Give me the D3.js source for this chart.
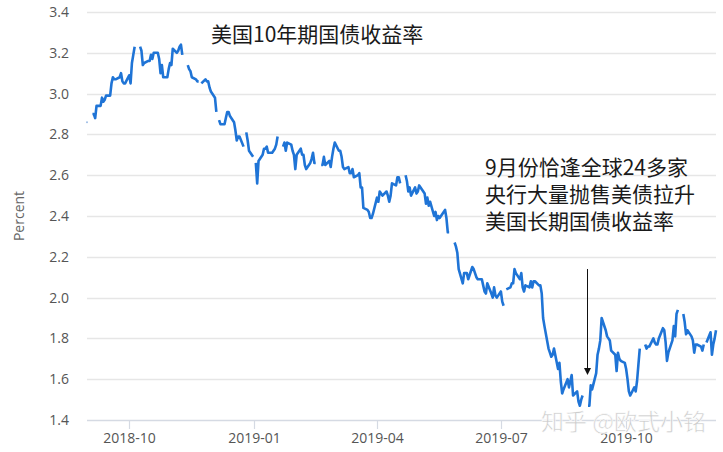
<!DOCTYPE html>
<html>
<head>
<meta charset="utf-8">
<script src="https://cdn.jsdelivr.net/npm/d3@7"></script>
<style>
  body { margin: 0; background: #fff; }
  svg { display: block; }
  .lbl { font-family: "Open Sans", "Noto Sans", sans-serif; font-size: 14px; fill: #555; }
  .cjk { font-family: "Noto Sans CJK SC", sans-serif; fill: #1a1a1a; }
</style>
</head>
<body>
<svg width="723" height="452"></svg>
<script>
// US 10y treasury yield, one array per month.
// values run over weekdays starting at the given date, null = market closed
const aug2018 = [2.86];
const sep2018 = [null, 2.90, 2.90, 2.88, 2.94, 2.94, 2.98, 2.96, 2.97, 2.99, 2.99, 3.05, 3.08, 3.07, 3.07, 3.08, 3.10, 3.06, 3.05, 3.05];
const oct2018 = [3.09, 3.05, 3.15, 3.19, 3.23, null, 3.23, 3.21, 3.14, 3.15, 3.16, 3.16, 3.19, 3.17, 3.20, 3.20, 3.17, 3.10, 3.14, 3.08, 3.08, 3.12, 3.15];
const nov2018 = [3.14, 3.22, 3.20, 3.21, 3.23, 3.24, 3.19, null, 3.14, 3.12, 3.11, 3.08, 3.07, 3.06, 3.06, null, 3.05, 3.07, 3.06, 3.06, 3.03, 3.01];
const dec2018 = [2.98, 2.91, null, 2.87, 2.85, 2.85, 2.88, 2.91, 2.91, 2.89, 2.86, 2.82, 2.77, 2.79, 2.79, 2.74, null, 2.81, 2.77, 2.72, 2.69];
const jan2019 = [null, 2.66, 2.56, 2.67, 2.70, 2.73, 2.73, 2.74, 2.71, 2.71, 2.72, 2.73, 2.75, 2.79, null, 2.74, 2.76, 2.72, 2.76, 2.75, 2.72, 2.70, 2.63];
const feb2019 = [2.70, 2.73, 2.70, 2.70, 2.65, 2.63, 2.66, 2.68, 2.71, 2.66, 2.66, null, 2.65, 2.65, 2.69, 2.65, 2.67, 2.64, 2.69, 2.73];
const mar2019 = [2.76, 2.72, 2.72, 2.69, 2.64, 2.63, 2.64, 2.61, 2.61, 2.63, 2.59, 2.60, 2.61, 2.54, 2.54, 2.44, 2.43, 2.42, 2.39, 2.39, 2.41];
const apr2019 = [2.49, 2.47, 2.52, 2.51, 2.50, 2.52, 2.50, 2.47, 2.50, 2.56, 2.55, 2.59, 2.59, 2.56, null, 2.60, 2.57, 2.52, 2.54, 2.50, 2.54, 2.51];
const may2019 = [2.52, 2.55, 2.54, 2.51, 2.46, 2.49, 2.45, 2.47, 2.40, 2.42, 2.38, 2.40, 2.39, 2.42, 2.43, 2.39, 2.32, 2.32, null, 2.27, 2.25, 2.22, 2.14];
const jun2019 = [2.07, 2.12, 2.12, 2.12, 2.09, 2.15, 2.14, 2.12, 2.10, 2.09, 2.09, 2.06, 2.03, 2.02, 2.07, 2.02, 2.00, 2.05, 2.01, 2.00];
const jul2019 = [2.03, 1.98, 1.96, null, 2.04, 2.05, 2.07, 2.07, 2.14, 2.12, 2.09, 2.12, 2.05, 2.03, 2.06, 2.05, 2.08, 2.05, 2.08, 2.08, 2.06, 2.06, 2.02];
const aug2019 = [1.90, 1.86, 1.75, 1.73, 1.71, 1.72, 1.75, 1.65, 1.68, 1.59, 1.53, 1.55, 1.60, 1.56, 1.59, 1.62, 1.52, 1.54, 1.49, 1.47, 1.50, 1.52];
const sep2019 = [null, 1.47, 1.47, 1.57, 1.55, 1.63, 1.72, 1.75, 1.79, 1.90, 1.84, 1.81, 1.80, 1.79, 1.74, 1.72, 1.64, 1.73, 1.70, 1.69, 1.68];
const oct2019 = [1.65, 1.60, 1.54, 1.52, 1.56, 1.54, 1.59, 1.67, 1.75, null, 1.77, 1.75, 1.76, 1.76, 1.80, 1.78, 1.77, 1.77, 1.80, 1.85, 1.84, 1.78, 1.69];
const nov2019 = [1.73, 1.79, 1.86, 1.81, 1.92, 1.94, null, 1.92, 1.88, 1.82, 1.84, 1.81, 1.79, 1.73, 1.77, 1.77, 1.76, 1.74, 1.77, null, 1.78];
const dec2019 = [1.83, 1.72, 1.77, 1.80, 1.84];

const months = [
  ["2018-08-31", aug2018], ["2018-09-03", sep2018], ["2018-10-01", oct2018],
  ["2018-11-01", nov2018], ["2018-12-03", dec2018], ["2019-01-01", jan2019],
  ["2019-02-01", feb2019], ["2019-03-01", mar2019], ["2019-04-01", apr2019],
  ["2019-05-01", may2019], ["2019-06-03", jun2019], ["2019-07-01", jul2019],
  ["2019-08-01", aug2019], ["2019-09-02", sep2019], ["2019-10-01", oct2019],
  ["2019-11-01", nov2019], ["2019-12-02", dec2019]
];

const yTicks = [1.4, 1.6, 1.8, 2.0, 2.2, 2.4, 2.6, 2.8, 3.0, 3.2, 3.4];
const xTicks = ["2018-10-01", "2019-01-01", "2019-04-01", "2019-07-01", "2019-10-01"];

const title = "美国10年期国债收益率";
const note = ["9月份恰逢全球24多家", "央行大量抛售美债拉升", "美国长期国债收益率"];
const noteDate = "2019-09-02";
const yTitle = "Percent";
const watermark = "知乎 @欧式小铭";

const parse = d3.utcParse("%Y-%m-%d");

const data = [];
for (const [start, vals] of months) {
  let d = parse(start);
  for (const v of vals) {
    data.push({date: d, value: v});
    d = d3.utcDay.offset(d, 1);
    while (d.getUTCDay() === 0 || d.getUTCDay() === 6) d = d3.utcDay.offset(d, 1);
  }
}

const plotL = 87, plotR = 716, plotT = 12, plotB = 420;

const x = d3.scaleUtc()
    .domain([data[0].date, data[data.length - 1].date])
    .range([plotL, plotR]);
const y = d3.scaleLinear()
    .domain([1.4, 3.4])
    .range([plotB, plotT]);

const svg = d3.select("svg");

// grid
svg.append("g")
  .selectAll("line")
  .data(yTicks)
  .join("line")
    .attr("x1", plotL).attr("x2", plotR)
    .attr("y1", d => Math.round(y(d)) + 0.5)
    .attr("y2", d => Math.round(y(d)) + 0.5)
    .attr("stroke", (d, i) => i === 0 ? "#d5dae3" : "#e6e6e6")
    .attr("stroke-width", 1.5);

svg.append("g")
  .selectAll("text")
  .data(yTicks)
  .join("text")
    .attr("class", "lbl")
    .attr("x", 69)
    .attr("y", d => y(d))
    .attr("dy", "0.36em")
    .attr("text-anchor", "end")
    .text(d => d.toFixed(1));

// x axis
const xt = svg.append("g")
  .selectAll("g")
  .data(xTicks.map(parse))
  .join("g")
    .attr("transform", d => `translate(${Math.round(x(d)) + 0.5},0)`);
xt.append("line")
    .attr("y1", plotB).attr("y2", plotB + 9)
    .attr("stroke", "#d5dae3")
    .attr("stroke-width", 1.2);
xt.append("text")
    .attr("class", "lbl")
    .attr("y", 443)
    .attr("text-anchor", "middle")
    .text(d3.utcFormat("%Y-%m"));

svg.append("text")
    .attr("class", "lbl")
    .attr("transform", `translate(24,${(plotT + plotB) / 2}) rotate(-90)`)
    .attr("text-anchor", "middle")
    .style("fill", "#666")
    .text(yTitle);

// series
const line = d3.line()
    .defined(d => d.value != null)
    .x(d => x(d.date))
    .y(d => y(d.value));

svg.append("path")
    .datum(data)
    .attr("fill", "none")
    .attr("stroke", "#1f74d6")
    .attr("stroke-width", 2.6)
    .attr("stroke-linejoin", "round")
    .attr("d", line);

// lone points between two gaps
const lone = data.filter((d, i) => d.value != null &&
    (i === 0 || data[i - 1].value == null) &&
    (i === data.length - 1 || data[i + 1].value == null));
svg.append("g")
  .selectAll("circle")
  .data(lone)
  .join("circle")
    .attr("cx", d => x(d.date))
    .attr("cy", d => y(d.value))
    .attr("r", 1)
    .attr("fill", "#9dbde6");

// annotations
svg.append("text")
    .attr("class", "cjk")
    .attr("x", 211)
    .attr("y", 42)
    .style("font-size", "21px")
    .text(title);

svg.append("g")
  .selectAll("text")
  .data(note)
  .join("text")
    .attr("class", "cjk")
    .attr("x", 485)
    .attr("y", (d, i) => 175 + i * 27)
    .style("font-size", "21px")
    .text(d => d);

const ax = Math.round(x(parse(noteDate))) + 0.5;
svg.append("line")
    .attr("x1", ax).attr("x2", ax)
    .attr("y1", y(2.14)).attr("y2", y(1.64))
    .attr("stroke", "#111")
    .attr("stroke-width", 1);
svg.append("path")
    .attr("d", `M${ax - 3.5},${y(1.655)} L${ax + 3.5},${y(1.655)} L${ax},${y(1.62)} Z`)
    .attr("fill", "#111");

svg.append("text")
    .attr("x", 706)
    .attr("y", 430)
    .attr("text-anchor", "end")
    .style("font-family", "'Noto Sans CJK SC', sans-serif")
    .style("font-size", "23px")
    .attr("fill", "#c4c4c4")
    .attr("fill-opacity", 0.85)
    .attr("stroke", "#fff")
    .attr("stroke-width", 0.6)
    .text(watermark);
</script>
</body>
</html>
